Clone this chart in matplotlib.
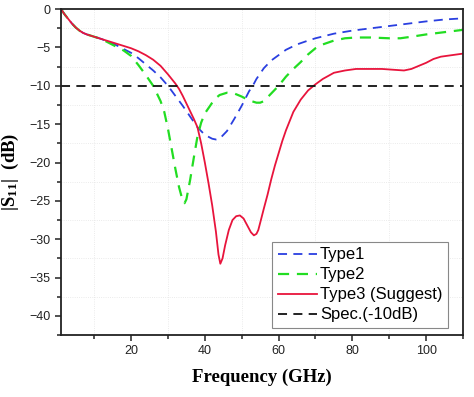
import matplotlib
matplotlib.use("Agg")
import matplotlib.pyplot as plt
from matplotlib.ticker import MultipleLocator

plt.rcParams['font.family'] = ['Liberation Sans', 'DejaVu Sans']
plt.rcParams['mathtext.fontset'] = 'custom'
plt.rcParams['mathtext.rm'] = 'Liberation Serif:bold'
plt.rcParams['mathtext.it'] = 'Liberation Serif:bold'
plt.rcParams['mathtext.bf'] = 'Liberation Serif:bold'

# ---- data ----
f_common = [1, 2, 3, 4, 5, 6, 7, 8, 10, 12]
s_common = [0, -0.7, -1.3, -1.9, -2.4, -2.8, -3.1, -3.3, -3.6, -3.9]

f_type1 = f_common + [14, 16, 18, 20, 22, 24, 26, 28, 30, 32, 34, 36, 38, 40, 42, 43, 44, 46, 48,
                      50, 52, 53, 54, 56, 58, 60, 62, 65, 68, 70, 75, 80, 85, 90, 95, 100, 105, 110]
s_type1 = s_common + [-4.3, -4.7, -5.2, -5.7, -6.4, -7.2, -8.0, -8.9, -10.0, -11.3, -12.6, -14.0,
                      -15.4, -16.4, -16.9, -17.0, -16.9, -15.9, -14.3, -12.6, -10.7, -10.0, -9.1,
                      -7.7, -6.7, -6.0, -5.3, -4.6, -4.1, -3.8, -3.2, -2.8, -2.5, -2.2, -1.9, -1.6,
                      -1.35, -1.2]

f_type2 = f_common + [14, 16, 18, 20, 22, 24, 26, 28, 29, 30, 31, 32, 33, 34, 34.5, 35, 36, 37, 38,
                      39, 40, 41, 42, 43, 44, 46, 48, 50, 52, 54, 55, 56, 57, 58, 60, 62, 64, 66,
                      68, 70, 72, 75, 78, 81, 85, 90, 93, 96, 100, 105, 110]
s_type2 = s_common + [-4.4, -4.9, -5.4, -6.1, -7.3, -8.6, -10.0, -12.0, -13.4, -15.6, -18.2, -20.8,
                      -23.2, -25.0, -25.3, -24.8, -22.3, -19.4, -16.6, -14.8, -13.6, -12.9, -12.2,
                      -11.6, -11.2, -10.9, -11.0, -11.4, -11.9, -12.2, -12.2, -12.0, -11.5, -11.0,
                      -10.0, -8.8, -7.8, -6.9, -5.9, -5.1, -4.6, -4.1, -3.8, -3.7, -3.7, -3.8,
                      -3.8, -3.6, -3.3, -3.0, -2.7]

f_type3 = f_common + [14, 16, 18, 20, 22, 24, 26, 28, 30, 31, 32, 33, 34, 35, 36, 37, 38, 39, 40,
                      41, 42, 43, 43.7, 44.2, 44.8, 45.5, 46.5, 47.5, 48.5, 49.5, 50.5, 51.5, 52.5,
                      53.3, 54, 54.5, 55.2, 56, 57, 58, 59, 60, 61, 62, 64, 66, 68, 70, 72, 75, 78,
                      81, 85, 88, 91, 94, 96, 98, 100, 102, 104, 107, 110]
s_type3 = s_common + [-4.2, -4.5, -4.8, -5.1, -5.5, -6.0, -6.6, -7.4, -8.5, -9.1, -9.7, -10.4, -11.3,
                      -12.3, -13.3, -14.3, -15.4, -17.5, -20.0, -22.7, -25.6, -29.0, -32.0, -33.2,
                      -32.5, -30.8, -28.8, -27.5, -27.0, -26.9, -27.3, -28.2, -29.1, -29.5, -29.3,
                      -28.8, -27.5, -26.0, -24.2, -22.2, -20.4, -18.8, -17.2, -15.8, -13.4, -11.8,
                      -10.6, -9.8, -9.1, -8.3, -8.0, -7.8, -7.8, -7.8, -7.9, -8.0, -7.8, -7.4, -7.0,
                      -6.5, -6.2, -6.0, -5.8]

spec_level = -10
labels = ['Type1', 'Type2', 'Type3 (Suggest)', 'Spec.(-10dB)']
colors = ['#2a3fe0', '#22dd22', '#e8143c', '#111111']

# ---- figure ----
fig = plt.figure(figsize=(4.74, 3.97), dpi=100)
ax = fig.add_axes([0.1287, 0.156, 0.8481, 0.821])

dash = (5, 3.5)
ax.plot(f_type1, s_type1, color=colors[0], lw=1.3, dashes=dash, label=labels[0])
ax.plot(f_type2, s_type2, color=colors[1], lw=1.6, dashes=dash, label=labels[1])
ax.plot(f_type3, s_type3, color=colors[2], lw=1.3, label=labels[2])
ax.axhline(spec_level, color=colors[3], lw=1.3, dashes=dash, label=labels[3])

ax.set_xlim(1, 110)
ax.set_ylim(-42.5, 0)
ax.xaxis.set_major_locator(MultipleLocator(20))
ax.xaxis.set_minor_locator(MultipleLocator(10))
ax.yaxis.set_major_locator(MultipleLocator(5))
ax.yaxis.set_minor_locator(MultipleLocator(2.5))
ax.grid(True, which='minor', color='#e4e4e4', lw=0.6, ls=':')
ax.set_axisbelow(True)

ax.tick_params(which='both', direction='out', top=False, right=False, labelsize=9,
               colors='#222222', width=1.1)
ax.tick_params(which='major', length=4)
ax.tick_params(which='minor', length=3)
for sp in ax.spines.values():
    sp.set_linewidth(1.3)
    sp.set_color('#222222')

ax.set_xlabel('Frequency (GHz)', family='Liberation Serif', fontweight='bold', fontsize=13.5,
              labelpad=8)
ax.set_ylabel(r'$|\mathrm{S}_{\mathrm{11}}|$  (dB)', family='Liberation Serif', fontweight='bold',
              fontsize=13.5, labelpad=6)

leg = ax.legend(loc='lower right', bbox_to_anchor=(0.963, 0.021), borderaxespad=0,
                fontsize=12, handlelength=2.35, handletextpad=0.15, labelspacing=0.3,
                borderpad=0.35, fancybox=False, framealpha=1, edgecolor='#888888')
leg.get_frame().set_linewidth(0.8)

fig.savefig('out.png', dpi=100)
